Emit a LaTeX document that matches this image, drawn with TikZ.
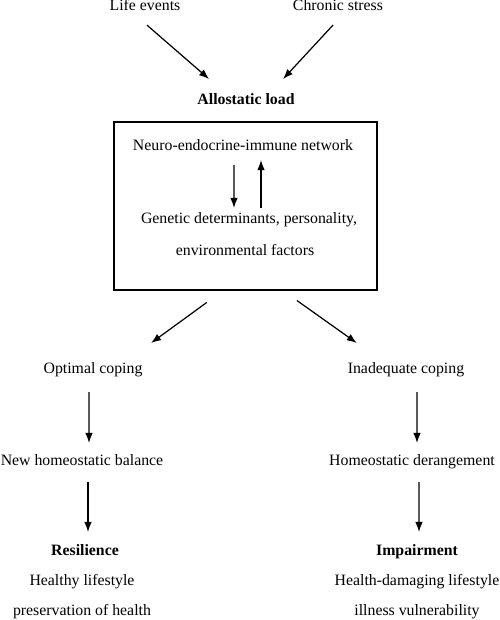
\documentclass[tikz,border=0pt]{standalone}
\usepackage{fontspec}
\setmainfont{Liberation Serif}
\usetikzlibrary{arrows.meta}

\begin{document}
\begin{tikzpicture}[
    txt/.style={inner sep=0pt, outer sep=0pt, text height=6.3pt, text depth=2pt,
      font=\fontsize{9}{11}\selectfont},
    arr/.style={line width=0.7pt, -{Latex[length=0.2cm,width=0.15cm]}}]
  \useasboundingbox (0,0) rectangle (10,-12.4);
  % stressors
  \node[txt] (life) at (2.9,-0.14) {Life events};
  \node[txt] (chronic) at (6.76,-0.14) {Chronic stress};
  \node[txt] (allo) at (4.92,-2.02) {\bfseries Allostatic load};
  \draw[arr, shorten <=0.33cm, shorten >=0.45cm] ([xshift=-0.21cm]life.south) -- ([xshift=-0.4cm]allo.north);
  \draw[arr, shorten <=0.29cm, shorten >=0.4cm] ([xshift=0.1cm]chronic.south) -- ([xshift=0.47cm]allo.north);
  % network box
  \node[draw, line width=0.7pt, minimum width=5.26cm, minimum height=3.36cm, inner sep=0pt] (nei) at (4.91,-4.12) {};
  \node[txt] (net) at (4.86,-2.94) {Neuro-endocrine-immune network};
  \node[txt] (gen) at (4.98,-4.40) {Genetic determinants, personality,};
  \node[txt] (env) at (4.90,-5.04) {environmental factors};
  \draw[arr, shorten <=0.215cm, shorten >=0.095cm] ([xshift=-0.18cm]net.south) -- ([xshift=-0.3cm]gen.north);
  \draw[arr, shorten <=0.095cm, shorten >=0.115cm] ([xshift=0.24cm]gen.north) -- ([xshift=0.36cm]net.south);
  % left branch
  \node[txt] (opt) at (1.86,-7.40) {Optimal coping};
  \node[txt] (bal) at (1.64,-9.24) {New homeostatic balance};
  \node[txt] (res) at (1.70,-11.04) {\bfseries Resilience};
  \node[txt] (healthy) at (1.64,-11.64) {Healthy lifestyle};
  \node[txt] (pres) at (1.64,-12.24) {preservation of health};
  \draw[arr, shorten <=0.4cm, shorten >=0.67cm] ([xshift=-0.45cm]nei.south) -- ([xshift=0.62cm]opt.north);
  \draw[arr, shorten <=0.295cm, shorten >=0.235cm] ([xshift=-0.08cm]opt.south) -- ([xshift=0.14cm]bal.north);
  \draw[arr, shorten <=0.255cm, shorten >=0.255cm] ([xshift=0.12cm]bal.south) -- ([xshift=0.06cm]res.north);
  % right branch
  \node[txt] (inad) at (8.12,-7.40) {Inadequate coping};
  \node[txt] (der) at (8.24,-9.24) {Homeostatic derangement};
  \node[txt] (imp) at (8.34,-11.04) {\bfseries Impairment};
  \node[txt] (dmg) at (8.34,-11.64) {Health-damaging lifestyle};
  \node[txt] (vuln) at (8.34,-12.24) {illness vulnerability};
  \draw[arr, shorten <=0.34cm, shorten >=0.68cm] ([xshift=0.75cm]nei.south) -- ([xshift=-0.43cm]inad.north);
  \draw[arr, shorten <=0.295cm, shorten >=0.235cm] ([xshift=0.22cm]inad.south) -- ([xshift=0.1cm]der.north);
  \draw[arr, shorten <=0.255cm, shorten >=0.255cm] ([xshift=0.14cm]der.south) -- ([xshift=0.04cm]imp.north);
\end{tikzpicture}
\end{document}
